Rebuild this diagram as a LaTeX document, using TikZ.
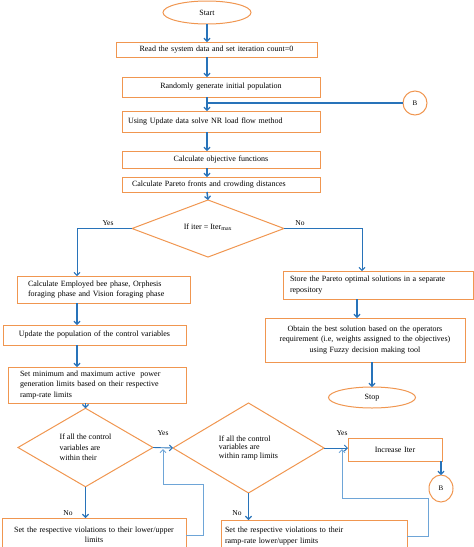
\documentclass[tikz,border=0pt]{standalone}
\usepackage{fontspec}
\setmainfont{Liberation Serif}
\usetikzlibrary{shapes.geometric,arrows.meta}
\definecolor{boxor}{RGB}{240,150,80}
\definecolor{flowbl}{RGB}{40,115,185}
\definecolor{fbbl}{RGB}{110,165,215}
\begin{document}
\begin{tikzpicture}[x=1pt,y=-1pt,
  bx/.style={draw=boxor,line width=1pt,fill=white,inner ysep=1pt,outer sep=0pt,
    font=\fontsize{8}{10.5}\selectfont,rectangle},
  ctr/.style={align=center,inner xsep=2pt},
  ell/.style={draw=boxor,line width=1pt,fill=white,ellipse,inner sep=0pt,outer sep=0pt,
    font=\fontsize{8}{10.5}\selectfont},
  dia/.style={draw=boxor,line width=1pt,diamond,inner sep=0pt,outer sep=0pt,align=left,
    font=\fontsize{8}{10.5}\selectfont},
  flow/.style={draw=flowbl,line width=1.5pt,-{Straight Barb[length=3pt,width=6pt,line width=1.2pt]}},
  branch/.style={draw=flowbl,line width=0.9pt,-{Straight Barb[length=3pt,width=6pt,line width=1pt]}},
  fb/.style={draw=fbbl,line width=0.9pt,-{Straight Barb[length=3pt,width=6pt,line width=1pt]}},
  plainline/.style={draw=flowbl,line width=1.5pt},
  lab/.style={font=\fontsize{7.5}{9}\selectfont,inner sep=0pt}]
\useasboundingbox (0,0) rectangle (474,547);
\clip (0,0) rectangle (474,547);

% top column
\node[ell,minimum width=88pt,minimum height=23pt] (start) at (207,12.5) {Start};
\node[bx,ctr,minimum height=15pt,text width=197pt] (read) at (216.5,49.5) {Read the system data and set iteration count=0};
\node[bx,ctr,minimum height=20pt,text width=194pt] (rand) at (221,87) {Randomly generate initial population};
\node[bx,align=left,inner xsep=6pt,minimum height=21pt,text width=186pt] (nr) at (221,121.5) {Using Update data solve NR load flow method};
\node[bx,ctr,minimum height=17pt,text width=194pt] (obj) at (221,159.5) {Calculate objective functions};
\node[bx,align=left,inner xsep=10pt,minimum height=15pt,text width=178pt] (pareto) at (221,184.5) {Calculate Pareto fronts and crowding distances};
\node[dia,minimum width=152pt,minimum height=57pt] (dec) at (208,228.5) {\raisebox{3pt}{If iter = Iter\textsubscript{max}}};
\node[ell,circle,minimum size=24pt,font=\fontsize{7}{8}\selectfont] (B1) at (415,103) {B};

% left column
\node[bx,align=left,inner xsep=11pt,minimum height=27pt,text width=151pt] (emp) at (103.5,289.5) {Calculate Employed bee phase, Orphesis\\foraging phase and Vision foraging phase};
\node[bx,ctr,minimum height=20pt,text width=179pt] (upd) at (94.5,335) {Update the population of the control variables};
\node[bx,align=left,inner xsep=12pt,minimum height=36pt,text width=154pt] (setmin) at (97,385) {Set minimum and maximum active~ power\\generation limits based on their respective\\ramp-rate limits};
\node[dia,minimum width=135pt,minimum height=75pt] (d1) at (85.5,447.5) {If all the control\\variables are\\within their};
\node[bx,ctr,minimum height=34pt,text width=180pt] (viol1) at (94,535) {Set the respective violations to their lower/upper\\limits};
\node[dia,minimum width=151pt,minimum height=90pt] (d2) at (248.5,448) {\raisebox{2pt}{\shortstack[l]{If all the control\\variables are\\within ramp limits}}};
\node[bx,align=left,inner xsep=4pt,minimum height=32pt,text width=178pt] (viol2) at (314,536) {Set the respective violations to their\\ ramp-rate lower/upper limits};
\node[bx,ctr,minimum height=23pt,text width=90pt] (inc) at (395,449.5) {Increase Iter};
\node[ell,minimum width=24pt,minimum height=27pt,font=\fontsize{7}{8}\selectfont] (B2) at (441,488.5) {B};

% right column
\node[bx,align=left,inner xsep=7pt,minimum height=28pt,text width=176pt] (store) at (378,285) {Store the Pareto optimal solutions in a separate\\repository};
\node[bx,ctr,minimum height=44pt,text width=196pt] (obtain) at (365,340) {Obtain the best solution based on the operators\\requirement (i.e, weights assigned to the objectives)\\using Fuzzy decision making tool};
\node[ell,minimum width=87pt,minimum height=21pt] (stop) at (372,397.5) {Stop};

% helper coordinates
\coordinate (ax) at (207,0);
\coordinate (j1) at (207,103);
\coordinate (cx) at (77,0);
\coordinate (sx) at (362,0);
\coordinate (ox) at (357,0);
\coordinate (f1) at (203,484);
\coordinate (f2) at (163,449);
\coordinate (f3) at (428,498);
\coordinate (f4) at (342,449);

% main flow
\draw[flow] (start.south) -- (ax |- read.north);
\draw[flow] (ax |- read.south) -- (ax |- rand.north);
\draw[flow] (ax |- rand.south) -- (ax |- nr.north);
\draw[plainline] (B1.west) -- (j1);
\draw[flow] (ax |- nr.south) -- (ax |- obj.north);
\draw[flow] (ax |- obj.south) -- (ax |- pareto.north);
\draw[flow] (ax |- pareto.south) -- (dec.north);

% decision branches
\draw[branch] (dec.west) -| (cx |- emp.north);
\draw[branch] (dec.east) -| (sx |- store.north);
\node[lab] (yes0) at (108,223) {Yes};
\node[lab] (no0) at (300,223) {No};

% left column flow
\draw[flow] (cx |- emp.south) -- (cx |- upd.north);
\draw[flow] (cx |- upd.south) -- (cx |- setmin.north);
\draw[flow] (d1.north |- setmin.south) -- (d1.north);
\draw[flow] (d1.south) -- (d1.south |- viol1.north);
\node[lab] (no1) at (68,513) {No};
\draw[branch] (d1.east) -- (d2.west);
\node[lab] (yes1) at (163,433) {Yes};
\draw[fb] (viol1.east) -| (f1) -| (f2);
\draw[flow] (d2.south) -- (d2.south |- viol2.north);
\node[lab] (no2) at (237,513) {No};
\draw[branch] (d2.east) -- (d2.east -| inc.west);
\node[lab] (yes2) at (342,433) {Yes};
\draw[fb] (viol2.east) -| (f3) -| (f4);
\draw[flow] (B2.north |- inc.south) -- (B2.north);

% right column flow
\draw[flow] (ox |- store.south) -- (ox |- obtain.north);
\draw[flow] (stop.north |- obtain.south) -- (stop.north);
\end{tikzpicture}
\end{document}
